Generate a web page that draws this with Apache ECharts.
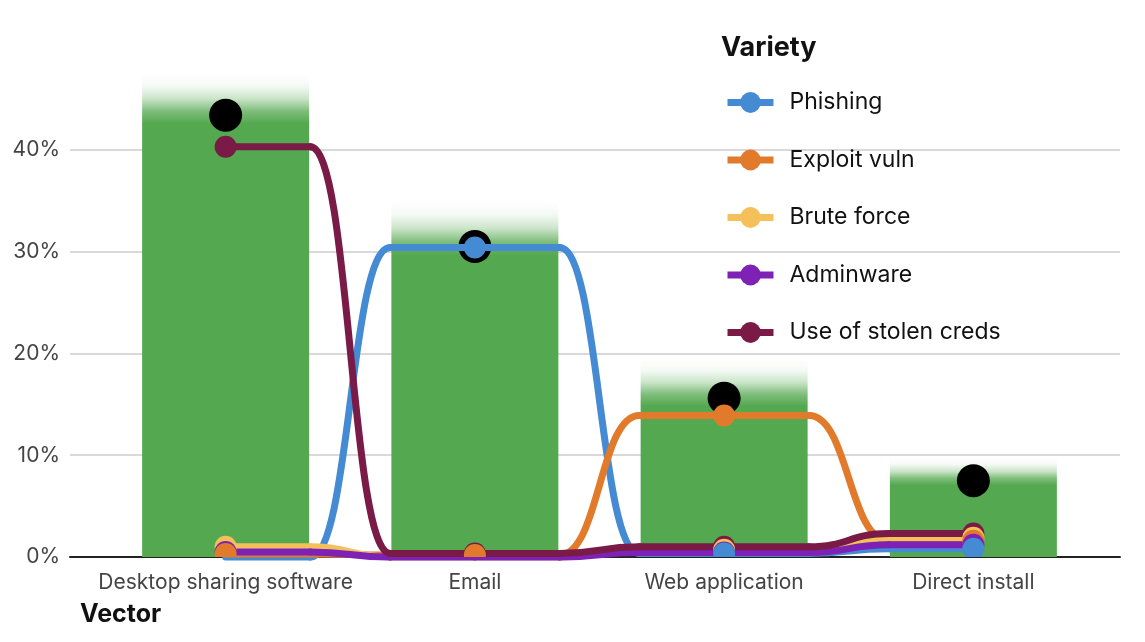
<!DOCTYPE html>
<html>
<head>
<meta charset="utf-8">
<script src="https://cdn.jsdelivr.net/npm/echarts@6/dist/echarts.min.js"></script>
<style>
  html, body { margin: 0; padding: 0; background: #fff; }
  #chart { width: 1145px; height: 642px; }
</style>
</head>
<body>
<div id="chart"></div>
<script>
// categories (vector) and values, in percent
const categories = ['Desktop sharing software', 'Email', 'Web application', 'Direct install'];
const barUpper = [47.5, 35, 19.5, 9.8];   // top of the faded green bar
const pointEst = [43.4, 30.5, 15.6, 7.5]; // black dots
const phishing = [0, 30.4, 0.35, 0.8];
const exploitVuln = [0.3, 0.2, 13.9, 1.6];
const bruteForce = [1.0, 0, 0.7, 1.9];
const adminware = [0.5, 0, 0.45, 1.2];
const stolenCreds = [40.3, 0.35, 1.0, 2.3];
const yTicks = [0, 10, 20, 30, 40, 50];

const varieties = [
  {name: 'Phishing', data: phishing, color: '#448bd4'},
  {name: 'Exploit vuln', data: exploitVuln, color: '#e27a2c'},
  {name: 'Brute force', data: bruteForce, color: '#f4c05a'},
  {name: 'Adminware', data: adminware, color: '#7d22b4'},
  {name: 'Use of stolen creds', data: stolenCreds, color: '#7a1a46'},
];

const GREEN = '84,168,79';
const FONT = 'Inter, "Liberation Sans", sans-serif';

const chart = echarts.init(document.getElementById('chart'), null, {renderer: 'canvas'});

// bars fade out above the point estimate
const barData = barUpper.map((v, i) => {
  const f = (v - pointEst[i]) / v;
  return {
    value: v,
    itemStyle: {
      color: new echarts.graphic.LinearGradient(0, 0, 0, 1, [
        {offset: 0, color: 'rgba(' + GREEN + ',0)'},
        {offset: f * 0.3, color: 'rgba(' + GREEN + ',0.06)'},
        {offset: f * 0.6, color: 'rgba(' + GREEN + ',0.3)'},
        {offset: f * 0.9, color: 'rgba(' + GREEN + ',0.75)'},
        {offset: Math.min(1, f * 1.2), color: 'rgba(' + GREEN + ',1)'},
        {offset: 1, color: 'rgba(' + GREEN + ',1)'},
      ]),
    },
  };
});

// smooth step from one category to the next
function stepCurve(color) {
  return function (params, api) {
    const a = api.coord([api.value(0), api.value(1)]);
    const b = api.coord([api.value(0) + 1, api.value(2)]);
    const s = b[0] - a[0];
    const style = {stroke: color, lineWidth: 7, fill: null, lineCap: 'round'};
    return {
      type: 'group',
      children: [
        {type: 'line', shape: {x1: a[0], y1: a[1], x2: a[0] + 0.34 * s, y2: a[1]}, style: style},
        {type: 'bezierCurve', shape: {
          x1: a[0] + 0.34 * s, y1: a[1],
          cpx1: a[0] + 0.5 * s, cpy1: a[1],
          cpx2: a[0] + 0.5 * s, cpy2: b[1],
          x2: a[0] + 0.66 * s, y2: b[1]}, style: style},
        {type: 'line', shape: {x1: a[0] + 0.66 * s, y1: b[1], x2: b[0], y2: b[1]}, style: style},
      ],
    };
  };
}

const curveSeries = varieties.map(v => ({
  type: 'custom',
  xAxisIndex: 0,
  yAxisIndex: 0,
  renderItem: stepCurve(v.color),
  encode: {x: 0, y: [1, 2]},
  data: v.data.slice(0, -1).map((val, i) => [i, val, v.data[i + 1]]),
  z: 3,
}));

// dots: larger values drawn first so smaller ones sit in front; zero shares get no dot
const dotData = [];
varieties.forEach((v, s) => v.data.forEach((val, i) => {
  if (val > 0) dotData.push([i, val, s]);
}));
dotData.sort((p, q) => q[1] - p[1]);

const dotSeries = {
  type: 'custom',
  xAxisIndex: 0,
  yAxisIndex: 0,
  encode: {x: 0, y: 1},
  data: dotData,
  z: 4,
  renderItem: function (params, api) {
    const p = api.coord([api.value(0), api.value(1)]);
    const cs = params.coordSys;
    return {
      type: 'group',
      clipPath: {type: 'rect', shape: {x: cs.x, y: cs.y, width: cs.width, height: cs.height}},
      children: [{
        type: 'circle',
        shape: {cx: p[0], cy: p[1], r: 11},
        style: {fill: varieties[api.value(2)].color},
      }],
    };
  },
};

// line series only carry the legend entries
const legendSeries = varieties.map(v => ({
  name: v.name,
  type: 'line',
  xAxisIndex: 0,
  yAxisIndex: 0,
  data: v.data,
  color: v.color,
  symbol: 'circle',
  showSymbol: false,
  lineStyle: {width: 0, color: v.color},
  z: 0,
}));

const option = {
  animation: false,
  backgroundColor: '#fff',
  title: [
    {text: 'Variety', left: 716, top: 29,
     textStyle: {fontFamily: FONT, fontSize: 27, fontWeight: 'bold', color: '#111'}},
    {text: 'Vector', left: 75, top: 597,
     textStyle: {fontFamily: FONT, fontSize: 25, fontWeight: 'bold', color: '#111'}},
  ],
  legend: {
    data: varieties.map(v => v.name),
    orient: 'vertical',
    left: 724,
    top: 91,
    padding: 0,
    itemWidth: 46,
    itemHeight: 26,
    itemGap: 34.5,
    lineStyle: {width: 7, opacity: 1},
    textStyle: {fontFamily: FONT, fontSize: 23, color: '#111', padding: [0, 0, 0, 11]},
  },
  grid: [
    {left: 101, right: 47, top: 48, bottom: 85},
    {left: 70, right: 25, top: 48, bottom: 85},
  ],
  xAxis: [
    {
      type: 'category',
      gridIndex: 0,
      data: categories,
      axisLine: {show: false},
      axisTick: {show: false},
      axisLabel: {fontFamily: FONT, fontSize: 21, color: '#444', margin: 15, interval: 0},
    },
    {
      type: 'value',
      gridIndex: 1,
      min: 0,
      max: 1,
      axisLine: {show: true, lineStyle: {color: '#222', width: 2}},
      axisTick: {show: false},
      axisLabel: {show: false},
      splitLine: {show: false},
    },
  ],
  yAxis: [
    {
      type: 'value',
      gridIndex: 0,
      min: yTicks[0],
      max: yTicks[yTicks.length - 1],
      interval: 10,
      axisLine: {show: false},
      axisTick: {show: false},
      splitLine: {show: false},
      axisLabel: {fontFamily: FONT, fontSize: 21, color: '#444', margin: 41,
                  formatter: '{value}%', showMaxLabel: false},
    },
    {
      type: 'value',
      gridIndex: 1,
      min: yTicks[0],
      max: yTicks[yTicks.length - 1],
      interval: 10,
      axisLine: {show: false},
      axisTick: {show: false},
      axisLabel: {show: false},
      splitLine: {show: true, showMinLine: false, showMaxLine: false,
                  lineStyle: {color: '#d9d9d9', width: 2}},
    },
  ],
  series: [
    {
      type: 'bar',
      xAxisIndex: 0,
      yAxisIndex: 0,
      barWidth: '67%',
      data: barData,
      z: 1,
    },
    {
      type: 'scatter',
      xAxisIndex: 0,
      yAxisIndex: 0,
      data: pointEst,
      symbolSize: 33,
      itemStyle: {color: '#000', opacity: 1},
      z: 2,
    },
    ...legendSeries,
    ...curveSeries,
    dotSeries,
  ],
};

chart.setOption(option);
</script>
</body>
</html>
